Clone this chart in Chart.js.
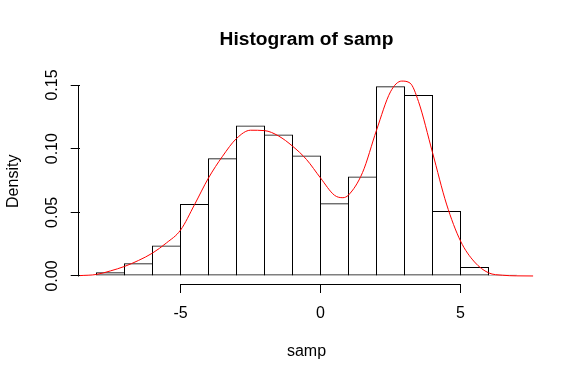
<!DOCTYPE html>
<html>
<head>
<meta charset="utf-8">
<script src="https://cdn.jsdelivr.net/npm/chart.js@4/dist/chart.umd.min.js"></script>
<style>
  html, body { margin: 0; padding: 0; background: #fff; }
  #wrap { width: 575px; height: 382px; }
</style>
</head>
<body>
<div id="wrap"><canvas id="c" width="575" height="382"></canvas></div>
<script>
// ---- data ----
const breaks = [-8, -7, -6, -5, -4, -3, -2, -1, 0, 1, 2, 3, 4, 5, 6, 7];
const histDensity = [0.003, 0.010, 0.024, 0.0565, 0.0925, 0.1183, 0.1112, 0.0947, 0.0571, 0.0782, 0.1491, 0.1421, 0.0510, 0.0071, 0.001];
const densX = [-8.6, -8.0, -7.5, -7.0, -6.5, -6.0, -5.5, -5.0, -4.5, -4.0, -3.5, -3.0, -2.5, -2.0, -1.5, -1.0, -0.5, 0, 0.5, 0.8, 1.0, 1.5, 2.0, 2.5, 2.9, 3.2, 3.5, 4.0, 4.5, 5.0, 5.5, 6.0, 6.5, 7.0, 7.6];
const densY = [0.0003, 0.0012, 0.004, 0.0075, 0.0122, 0.018, 0.026, 0.036, 0.056, 0.077, 0.094, 0.108, 0.1145, 0.1142, 0.110, 0.102, 0.0915, 0.077, 0.0634, 0.0615, 0.0636, 0.0812, 0.1145, 0.1447, 0.1531, 0.1515, 0.137, 0.097, 0.0565, 0.0275, 0.011, 0.0025, 0.0006, 0.0001, 0];
const xTicks = [-5, 0, 5];
const xTickLabels = ['-5', '0', '5'];
const yTicks = [0, 0.05, 0.10, 0.15];
const yTickLabels = ['0.00', '0.05', '0.10', '0.15'];
const titleText = 'Histogram of samp';
const xLabel = 'samp';
const yLabel = 'Density';

const FONT = "'Liberation Sans', Arial, sans-serif";
const PX_PER_UNIT = 28;

const barData = histDensity.map((d, i) => ({ x: (breaks[i] + breaks[i + 1]) / 2, y: d }));
const lineData = densX.map((x, i) => ({ x: x, y: densY[i] }));

const rAxes = {
  id: 'rAxes',
  afterDraw(chart) {
    const ctx = chart.ctx;
    const xs = chart.scales.x, ys = chart.scales.y;
    const area = chart.chartArea;
    ctx.save();
    ctx.strokeStyle = '#000';
    ctx.lineWidth = 1;
    // x axis line (first to last tick)
    const yb = Math.round(area.bottom) + 0.5;
    ctx.beginPath();
    ctx.moveTo(Math.floor(xs.getPixelForValue(xTicks[0])) + 0.5, yb);
    ctx.lineTo(Math.floor(xs.getPixelForValue(xTicks[xTicks.length - 1])) + 0.5, yb);
    ctx.stroke();
    // y axis line
    const xl = Math.floor(area.left) - 0.5;
    ctx.beginPath();
    ctx.moveTo(xl, Math.round(ys.getPixelForValue(yTicks[0])) + 0.5);
    ctx.lineTo(xl, Math.round(ys.getPixelForValue(yTicks[yTicks.length - 1])) + 0.5);
    ctx.stroke();
    // y tick labels, rotated like R
    ctx.fillStyle = '#000';
    ctx.font = '16px ' + FONT;
    ctx.textAlign = 'center';
    ctx.textBaseline = 'alphabetic';
    yTicks.forEach((v, i) => {
      const py = ys.getPixelForValue(v);
      ctx.save();
      ctx.translate(area.left - 22.6, py);
      ctx.rotate(-Math.PI / 2);
      ctx.fillText(yTickLabels[i], 0, 0);
      ctx.restore();
    });
    ctx.restore();
  }
};

new Chart(document.getElementById('c'), {
  type: 'bar',
  data: {
    datasets: [
      {
        type: 'line',
        data: lineData,
        borderColor: '#ff0000',
        borderWidth: 1,
        pointRadius: 0,
        fill: false,
        cubicInterpolationMode: 'monotone',
        order: 0
      },
      {
        type: 'bar',
        data: barData,
        backgroundColor: 'rgba(255,255,255,0)',
        borderColor: '#000',
        borderWidth: 1,
        borderSkipped: false,
        barPercentage: (PX_PER_UNIT + 1) / PX_PER_UNIT,
        categoryPercentage: 1,
        order: 1
      }
    ]
  },
  options: {
    responsive: false,
    animation: false,
    events: [],
    layout: { padding: { left: 0, right: 575 - (79.7 + 16.2 * PX_PER_UNIT), top: 0, bottom: 0 } },
    plugins: {
      legend: { display: false },
      tooltip: { enabled: false },
      title: {
        display: true,
        text: titleText,
        fullSize: false,
        color: '#000',
        font: { family: FONT, size: 19.2, weight: 'bold', lineHeight: 1.2 },
        padding: { top: 28.5, bottom: 27 }
      }
    },
    scales: {
      x: {
        type: 'linear',
        min: -8.6,
        max: 7.6,
        offset: false,
        afterFit: (s) => { s.height = 98; },
        afterBuildTicks: (s) => { s.ticks = xTicks.map(v => ({ value: v })); },
        border: { display: false },
        grid: { offset: false, drawOnChartArea: false, drawTicks: true, tickLength: 9, color: '#000', lineWidth: 1 },
        ticks: {
          color: '#000',
          font: { family: FONT, size: 16 },
          padding: 11,
          maxRotation: 0,
          autoSkip: false,
          callback: (v, i) => xTickLabels[i]
        },
        title: {
          display: true,
          text: xLabel,
          color: '#000',
          font: { family: FONT, size: 16, lineHeight: 1.2 },
          padding: { top: 0, bottom: 21 }
        }
      },
      y: {
        type: 'linear',
        min: -0.0063,
        max: 0.1551,
        afterFit: (s) => { s.width = 79.7; },
        afterBuildTicks: (s) => { s.ticks = yTicks.map(v => ({ value: v })); },
        border: { display: false },
        grid: { drawOnChartArea: false, drawTicks: true, tickLength: 9, color: '#000', lineWidth: 1 },
        ticks: { display: false },
        title: {
          display: true,
          text: yLabel,
          color: '#000',
          font: { family: FONT, size: 16, lineHeight: 1.2 },
          padding: { top: 3.5, bottom: 0 }
        }
      }
    }
  },
  plugins: [rAxes]
});
</script>
</body>
</html>
